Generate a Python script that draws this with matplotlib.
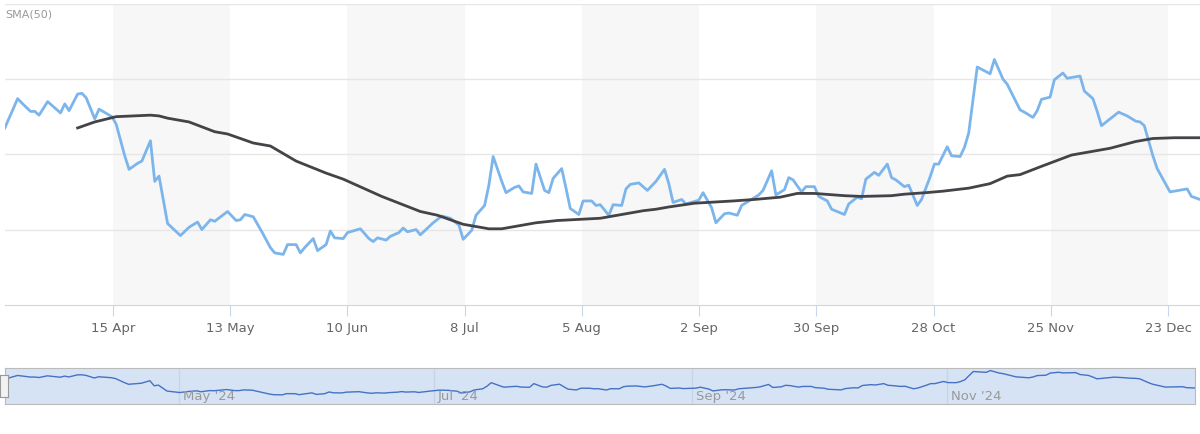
import numpy as np
import pandas as pd
import matplotlib.pyplot as plt
import matplotlib.dates as mdates

# ---------------- data ----------------
# day positions were read in units slightly shorter than a day; DAY_SCALE corrects that
start = pd.Timestamp("2024-03-20 05:00")
DAY_SCALE = 1.023

price_days = [0, 3, 4, 6, 7, 8, 10, 13, 14, 15, 17, 18, 19, 21, 22, 25, 26, 28, 29, 31,
              32, 34, 35, 36, 38, 41, 43, 45, 46, 48, 49, 52, 54, 55, 56, 58, 60, 62, 63, 65,
              66, 68, 69, 70, 72, 73, 75, 76, 77, 79, 80, 83, 85, 86, 87, 89, 90, 92, 93, 94,
              96, 97, 100, 102, 104, 106, 107, 109, 110, 112, 113, 114, 116, 117, 119, 120, 121, 123, 124, 126,
              127, 128, 130, 131, 132, 134, 135, 137, 138,
              139, 141, 142, 144, 145, 146, 148, 150, 152, 154, 155, 156, 158, 159, 162, 163, 165, 166, 168, 169,
              171, 172, 174, 176, 177, 179, 180, 182, 183, 184, 186, 187, 189, 190, 192, 193, 196, 197, 199, 200,
              201, 203, 204, 206, 207, 208, 210, 211, 213, 214, 216, 217, 218, 220, 221, 223, 224, 225, 227, 230,
              231, 233, 234, 237, 238, 240, 241, 242, 244, 245, 247, 248, 251, 252, 254, 255, 256, 258, 260, 262,
              264, 265, 266, 268, 269, 272, 276, 277, 279]
price = [2.35, 2.74, 2.68, 2.57, 2.57, 2.52, 2.70, 2.55, 2.67, 2.58, 2.80, 2.81, 2.75, 2.47, 2.60, 2.50, 2.40, 1.98, 1.80, 1.88,
         1.91, 2.18, 1.64, 1.71, 1.08, 0.92, 1.03, 1.10, 1.00, 1.13, 1.11, 1.24, 1.12, 1.13, 1.20, 1.17, 0.97, 0.76, 0.69, 0.67,
         0.80, 0.80, 0.69, 0.76, 0.88, 0.72, 0.80, 0.98, 0.89, 0.88, 0.96, 1.01, 0.88, 0.84, 0.89, 0.86, 0.91, 0.96, 1.02, 0.97,
         1.00, 0.93, 1.09, 1.18, 1.15, 1.06, 0.87, 0.99, 1.19, 1.32, 1.59, 1.97, 1.64, 1.49, 1.56, 1.58, 1.50, 1.48, 1.87, 1.52,
         1.49, 1.68, 1.81, 1.55, 1.28, 1.20, 1.38, 1.38, 1.32,
         1.33, 1.19, 1.33, 1.32, 1.54, 1.60, 1.62, 1.52, 1.64, 1.80, 1.61, 1.36, 1.40, 1.34, 1.39, 1.49, 1.29, 1.09, 1.21, 1.22,
         1.19, 1.32, 1.39, 1.46, 1.52, 1.78, 1.46, 1.53, 1.69, 1.66, 1.50, 1.57, 1.57, 1.44, 1.38, 1.27, 1.20, 1.34, 1.43, 1.41,
         1.67, 1.76, 1.72, 1.87, 1.69, 1.66, 1.57, 1.59, 1.32, 1.40, 1.70, 1.87, 1.87, 2.10, 1.98, 1.97, 2.09, 2.28, 3.16, 3.07,
         3.26, 3.00, 2.93, 2.59, 2.56, 2.49, 2.58, 2.73, 2.76, 2.99, 3.08, 3.01, 3.04, 2.84, 2.74, 2.57, 2.38, 2.47, 2.56, 2.51,
         2.44, 2.43, 2.38, 1.98, 1.81, 1.50, 1.54, 1.44, 1.40]

sma_days = [17, 21, 26, 34, 36, 38, 43, 49, 52, 58, 62, 68, 75, 79, 88, 97, 101, 107, 113, 116,
            124, 129, 139, 143, 149, 152, 155, 161, 170, 175, 181, 185, 189, 196, 200, 207, 210, 215, 219, 225,
            230, 234, 237, 242, 249, 254, 258, 264, 268, 273, 279]
sma = [2.35, 2.43, 2.50, 2.52, 2.51, 2.48, 2.43, 2.30, 2.27, 2.15, 2.11, 1.91, 1.75, 1.67, 1.44, 1.24, 1.19, 1.07, 1.01, 1.01,
       1.09, 1.12, 1.15, 1.19, 1.25, 1.27, 1.30, 1.35, 1.38, 1.40, 1.43, 1.48, 1.48, 1.45, 1.44, 1.45, 1.47, 1.49, 1.51, 1.55,
       1.61, 1.71, 1.73, 1.84, 1.99, 2.04, 2.08, 2.17, 2.21, 2.22, 2.22]

tick_dates = ["2024-04-15", "2024-05-13", "2024-06-10", "2024-07-08", "2024-08-05",
              "2024-09-02", "2024-09-30", "2024-10-28", "2024-11-25", "2024-12-23"]
band_starts = ["2024-04-15", "2024-06-10", "2024-08-05", "2024-09-30", "2024-11-25"]
nav_labels = ["2024-05-01", "2024-07-01", "2024-09-01", "2024-11-01"]

price_dates = start + pd.to_timedelta(np.array(price_days) * DAY_SCALE, unit="D")
sma_dates = start + pd.to_timedelta(np.array(sma_days) * DAY_SCALE, unit="D")
x0 = start
x1 = price_dates[-1]

# ---------------- figure ----------------
fig = plt.figure(figsize=(12, 4.35), dpi=100)
plt.rcParams['font.family'] = ['DejaVu Sans']

ax = fig.add_axes([0.004, 0.297, 0.996, 0.692])
for b in band_starts:
    s = pd.Timestamp(b)
    ax.axvspan(s, s + pd.Timedelta(days=28), color="#f7f7f7", lw=0, zorder=0)
for g in [1, 2, 3, 4]:
    ax.axhline(g, color="#e6e6e6", lw=1, zorder=1)

ax.plot(price_dates, price, color="#7cb5ec", lw=2, zorder=3)
ax.plot(sma_dates, sma, color="#434348", lw=2, zorder=4)

ax.set_xlim(x0, x1)
ax.set_ylim(0, 4)
ax.set_yticks([])
for sp in ["top", "left", "right"]:
    ax.spines[sp].set_visible(False)
ax.spines["bottom"].set_color("#ccd6eb")
ax.set_xticks(pd.to_datetime(tick_dates))
ax.xaxis.set_major_formatter(mdates.DateFormatter("%-d %b"))
ax.tick_params(axis="x", colors="#ccd6eb", labelcolor="#666666", labelsize=9.5, length=8, pad=4)
ax.text(0.0, 0.985, "SMA(50)", transform=ax.transAxes, fontsize=8, color="#999999",
        va="top", ha="left")

# ---------------- navigator ----------------
nav = fig.add_axes([0.004, 0.069, 0.992, 0.082])
nav.set_facecolor("#d6e3f5")
nav.plot(price_dates, price, color="#4572c4", lw=1, zorder=3)
nav.set_xlim(x0, x1)
nav.set_ylim(-0.3, 3.5)
nav.set_yticks([])
nav.set_xticks([])
for d in nav_labels:
    t = pd.Timestamp(d)
    nav.axvline(t, color="#c8d4e6", lw=1, zorder=1)
    nav.text(t + pd.Timedelta(days=1), 0.05, t.strftime("%b '%y"), transform=nav.get_xaxis_transform(),
             fontsize=9.5, color="#999999", ha="left", va="bottom", zorder=4)
for sp in nav.spines.values():
    sp.set_color("#bbbbbb")

# left handle
h = fig.add_axes([0.0, 0.085, 0.007, 0.05])
h.set_facecolor("#f2f2f2")
h.set_xticks([])
h.set_yticks([])
for sp in h.spines.values():
    sp.set_color("#999999")

fig.savefig("out.png", dpi=100)
